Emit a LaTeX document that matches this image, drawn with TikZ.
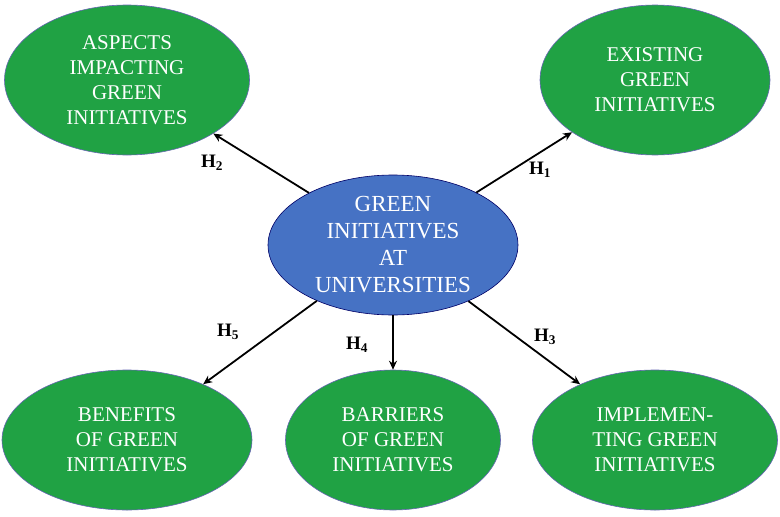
\documentclass[tikz,border=0pt]{standalone}
\usepackage{fontspec}
\setmainfont{Liberation Serif}
\usetikzlibrary{shapes.geometric,arrows.meta}
\begin{document}
\begin{tikzpicture}[x=1pt,y=-1pt,
  green/.style={ellipse,draw=blue!50!black!60,line width=0.6pt,text=white,align=center,font=\fontsize{21}{25}\selectfont,inner sep=0pt},
  blue/.style={ellipse,draw=blue!40!black,line width=0.6pt,text=white,align=center,font=\fontsize{23}{27}\selectfont,inner sep=0pt},
  conn/.style={line width=1.8pt,-{Stealth[length=9pt,width=8pt]}},
  hl/.style={font=\fontsize{19}{21}\selectfont\bfseries}]
\useasboundingbox (0,0) rectangle (780,517);
\definecolor{gr}{RGB}{32,162,68}
\definecolor{bl}{RGB}{70,114,196}
\node[blue,fill=bl,minimum width=250,minimum height=140] (c) at (393,245) {GREEN\\INITIATIVES\\AT\\UNIVERSITIES};
\node[green,fill=gr,minimum width=245,minimum height=150] (a) at (127,80) {ASPECTS\\IMPACTING\\GREEN\\INITIATIVES};
\node[green,fill=gr,minimum width=230,minimum height=150] (e) at (655,80) {EXISTING\\GREEN\\INITIATIVES};
\node[green,fill=gr,minimum width=250,minimum height=140] (b) at (127,440) {BENEFITS\\OF GREEN\\INITIATIVES};
\node[green,fill=gr,minimum width=215,minimum height=140] (r) at (393,440) {BARRIERS\\OF GREEN\\INITIATIVES};
\node[green,fill=gr,minimum width=245,minimum height=140] (i) at (655,440) {IMPLEMEN-\\TING GREEN\\INITIATIVES};
\draw[conn] (c) -- (a);
\draw[conn] (c) -- (e);
\draw[conn] (c) -- (b);
\draw[conn] (c.south) -- (r.north);
\draw[conn] (c) -- (i);
\node[hl] (h2) at (212,163) {H\textsubscript{2}};
\node[hl] (h1) at (540,170) {H\textsubscript{1}};
\node[hl] (h5) at (228,332) {H\textsubscript{5}};
\node[hl] (h4) at (357,345) {H\textsubscript{4}};
\node[hl] (h3) at (545,337) {H\textsubscript{3}};
\end{tikzpicture}
\end{document}
